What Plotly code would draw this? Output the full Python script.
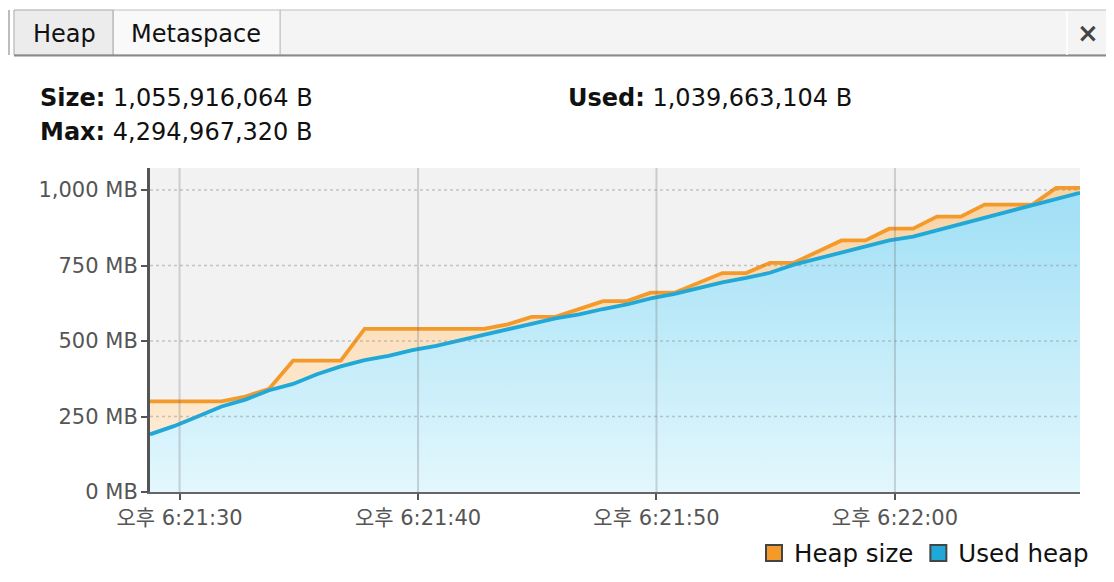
import plotly.graph_objects as go

# ---------------- data ----------------
times = [
    "2024-05-20 18:21:28.76", "2024-05-20 18:21:29.76", "2024-05-20 18:21:30.76", "2024-05-20 18:21:31.76",
    "2024-05-20 18:21:32.76", "2024-05-20 18:21:33.76", "2024-05-20 18:21:34.76", "2024-05-20 18:21:35.76",
    "2024-05-20 18:21:36.76", "2024-05-20 18:21:37.76", "2024-05-20 18:21:38.76", "2024-05-20 18:21:39.76",
    "2024-05-20 18:21:40.76", "2024-05-20 18:21:41.76", "2024-05-20 18:21:42.76", "2024-05-20 18:21:43.76",
    "2024-05-20 18:21:44.76", "2024-05-20 18:21:45.76", "2024-05-20 18:21:46.76", "2024-05-20 18:21:47.76",
    "2024-05-20 18:21:48.76", "2024-05-20 18:21:49.76", "2024-05-20 18:21:50.76", "2024-05-20 18:21:51.76",
    "2024-05-20 18:21:52.76", "2024-05-20 18:21:53.76", "2024-05-20 18:21:54.76", "2024-05-20 18:21:55.76",
    "2024-05-20 18:21:56.76", "2024-05-20 18:21:57.76", "2024-05-20 18:21:58.76", "2024-05-20 18:21:59.76",
    "2024-05-20 18:22:00.76", "2024-05-20 18:22:01.76", "2024-05-20 18:22:02.76", "2024-05-20 18:22:03.76",
    "2024-05-20 18:22:04.76", "2024-05-20 18:22:05.76", "2024-05-20 18:22:06.76", "2024-05-20 18:22:07.76",
]
heap_size_mb = [300, 300, 300, 300, 316, 342, 435, 435, 435, 540,
                540, 540, 540, 540, 540, 555, 580, 580, 606, 632,
                632, 660, 660, 692, 725, 725, 759, 759, 797, 833,
                833, 872, 872, 912, 912, 952, 952, 952, 1007, 1007]
used_heap_mb = [191, 218, 250, 283, 306, 337, 358, 390, 416, 437,
                451, 470, 484, 503, 522, 538, 557, 575, 588, 606,
                621, 641, 656, 675, 694, 709, 726, 753, 773, 794,
                813, 833, 846, 867, 888, 908, 929, 950, 970, 991]

x_tick_vals = ["2024-05-20 18:21:30", "2024-05-20 18:21:40", "2024-05-20 18:21:50", "2024-05-20 18:22:00"]
x_tick_text = ["오후 6:21:30", "오후 6:21:40", "오후 6:21:50", "오후 6:22:00"]
y_tick_vals = [0, 250, 500, 750, 1000]
y_tick_text = ["0 MB", "250 MB", "500 MB", "750 MB", "1,000 MB"]

tab_labels = ["Heap", "Metaspace"]
size_text = "1,055,916,064 B"
max_text = "4,294,967,320 B"
used_text = "1,039,663,104 B"
series_names = ["Heap size", "Used heap"]

# ---------------- style ----------------
OFF = 8  # page body margin
W, H = 1114 - OFF, 582 - OFF
L, R, T, B = 150 - OFF, 34, 168 - OFF, 90
PW, PH = W - L - R, H - T - B
FONT = "DejaVu Sans, Noto Sans CJK KR, sans-serif"
ORANGE = "#f39a2b"
BLUE = "#20a8d8"


def pxx(x):
    # x given in reference-window pixels
    return (x - OFF - L) / PW


def pxy(y):
    return (H - B - (y - OFF)) / PH


fig = go.Figure()

fig.add_trace(go.Scatter(
    x=times, y=heap_size_mb, mode="lines", name=series_names[0],
    line=dict(color=ORANGE, width=3.8), fill="tozeroy",
    fillgradient=dict(type="vertical", start=0, stop=1000,
                      colorscale=[[0, "#fff0de"], [1, "#f8d3a4"]]),
    showlegend=False, hoverinfo="skip"))
fig.add_trace(go.Scatter(
    x=times, y=used_heap_mb, mode="lines", name=series_names[1],
    line=dict(color=BLUE, width=3.8), fill="tozeroy",
    fillgradient=dict(type="vertical", start=0, stop=1000,
                      colorscale=[[0, "#e3f7fd"], [1, "#9fdff5"]]),
    showlegend=False, hoverinfo="skip"))

# legend entries
for nm, col in zip(series_names, [ORANGE, BLUE]):
    fig.add_trace(go.Scatter(
        x=[None], y=[None], mode="markers", name=nm,
        marker=dict(symbol="square", size=17, color=col, line=dict(color="#444", width=2))))

shapes = []
# grid lines drawn above fills
for tv in x_tick_vals:
    shapes.append(dict(type="line", xref="x", yref="paper", x0=tv, x1=tv, y0=0, y1=1,
                       line=dict(color="rgba(110,110,110,0.28)", width=2), layer="above"))
for yv in y_tick_vals[1:]:
    shapes.append(dict(type="line", xref="paper", yref="y", x0=0, x1=1, y0=yv, y1=yv,
                       line=dict(color="rgba(140,140,140,0.45)", width=1.5, dash="dot"), layer="above"))


def rect(x0, y0, x1, y1, fill, line, lw=1):
    return dict(type="rect", xref="paper", yref="paper", x0=pxx(x0), x1=pxx(x1),
                y0=pxy(y1), y1=pxy(y0), fillcolor=fill, line=dict(color=line, width=lw), layer="above")


def hline(x0, x1, y, col, lw):
    return dict(type="line", xref="paper", yref="paper", x0=pxx(x0), x1=pxx(x1),
                y0=pxy(y), y1=pxy(y), line=dict(color=col, width=lw), layer="above")


def vline(x, y0, y1, col, lw):
    return dict(type="line", xref="paper", yref="paper", x0=pxx(x), x1=pxx(x),
                y0=pxy(y0), y1=pxy(y1), line=dict(color=col, width=lw), layer="above")


# tab bar
shapes += [
    vline(9, 10, 55, "#bdbdbd", 2),
    rect(280, 10, 1107, 55, "#f4f4f4", "#bdbdbd"),
    rect(113, 10, 280, 55, "#f9f9f9", "#bdbdbd"),
    rect(14, 10, 113, 55, "#ececec", "#a9a9a9"),
    hline(14, 1107, 55.5, "#8a8a8a", 2),
    vline(1067, 11, 55, "#ffffff", 1.5),
]

annotations = [
    dict(text=tab_labels[0], x=pxx(64), y=pxy(34), showarrow=False, xref="paper", yref="paper",
         xanchor="center", yanchor="middle", font=dict(family=FONT, size=24, color="#111")),
    dict(text=tab_labels[1], x=pxx(196), y=pxy(34), showarrow=False, xref="paper", yref="paper",
         xanchor="center", yanchor="middle", font=dict(family=FONT, size=24, color="#111")),
    dict(text="<b>×</b>", x=pxx(1088), y=pxy(33), showarrow=False, xref="paper", yref="paper",
         xanchor="center", yanchor="middle", font=dict(family=FONT, size=26, color="#444")),
    dict(text="<b>Size:</b> " + size_text, x=pxx(38), y=pxy(98), showarrow=False, xref="paper", yref="paper",
         xanchor="left", yanchor="middle", font=dict(family=FONT, size=24, color="#111")),
    dict(text="<b>Max:</b> " + max_text, x=pxx(38), y=pxy(132), showarrow=False, xref="paper", yref="paper",
         xanchor="left", yanchor="middle", font=dict(family=FONT, size=24, color="#111")),
    dict(text="<b>Used:</b> " + used_text, x=pxx(566), y=pxy(98), showarrow=False, xref="paper", yref="paper",
         xanchor="left", yanchor="middle", font=dict(family=FONT, size=24, color="#111")),
]

fig.update_layout(
    width=W, height=H,
    margin=dict(l=L, r=R, t=T, b=B, autoexpand=False),
    paper_bgcolor="white",
    plot_bgcolor="#f2f2f2",
    font=dict(family=FONT, color="#555"),
    shapes=shapes,
    annotations=annotations,
    showlegend=True,
    legend=dict(orientation="h", x=pxx(1094), xanchor="right", y=pxy(553), yanchor="middle",
                font=dict(family=FONT, size=24.5, color="#111"), itemsizing="trace",
                bgcolor="rgba(0,0,0,0)", itemwidth=30, tracegroupgap=0),
    xaxis=dict(
        type="date", range=[times[0], times[-1]],
        tickmode="array", tickvals=x_tick_vals, ticktext=x_tick_text,
        showgrid=False, zeroline=False,
        showline=True, linecolor="#666", linewidth=2,
        ticks="outside", ticklen=6, tickwidth=2, tickcolor="#555",
        tickfont=dict(family=FONT, size=21, color="#555"),
    ),
    yaxis=dict(
        range=[0, 1073],
        tickmode="array", tickvals=y_tick_vals, ticktext=y_tick_text,
        showgrid=False, zeroline=False,
        showline=True, linecolor="#555", linewidth=3,
        ticks="outside", ticklen=6, tickwidth=2, tickcolor="#555",
        ticklabelstandoff=-1,
        tickfont=dict(family=FONT, size=21, color="#555"),
    ),
)

fig.write_html("out.html")
